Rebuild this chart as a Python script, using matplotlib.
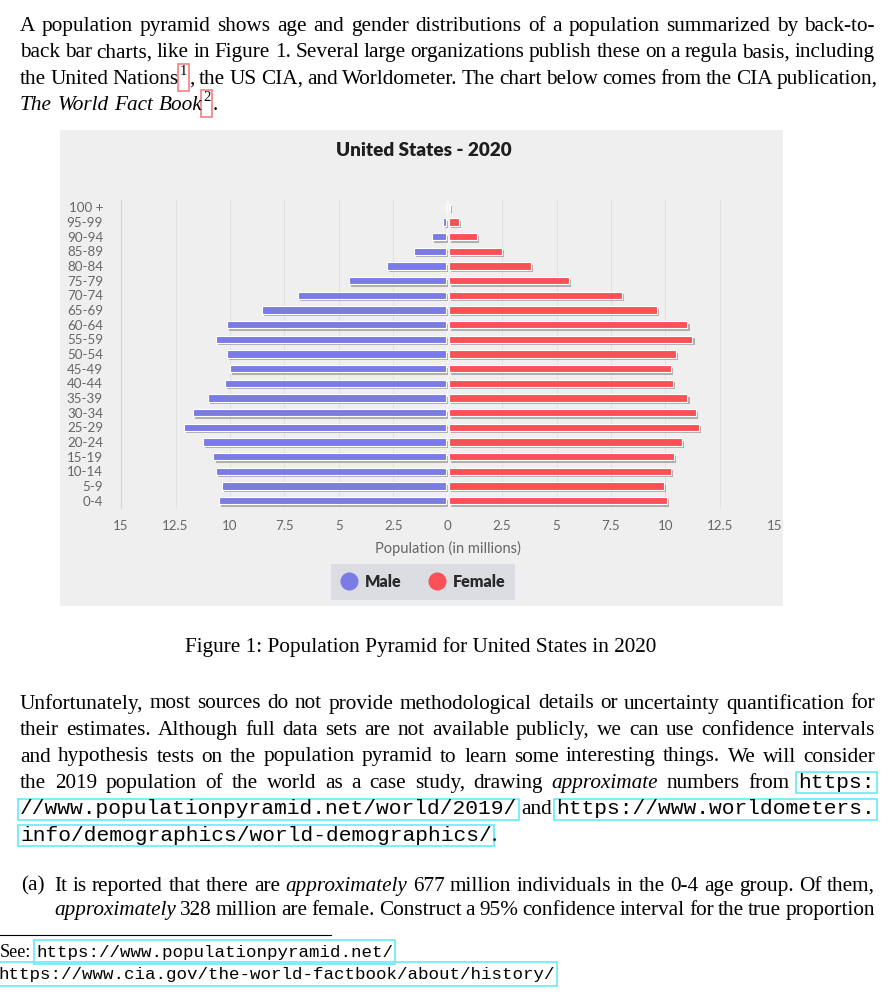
import re
import matplotlib
matplotlib.use('Agg')
import matplotlib.pyplot as plt
import matplotlib.patheffects as pe
from matplotlib.patches import Rectangle
from matplotlib.lines import Line2D
from matplotlib.transforms import IdentityTransform
from matplotlib.ticker import FuncFormatter, MultipleLocator

W, H = 890, 1008

# population pyramid values (millions)
age_groups = ['0-4', '5-9', '10-14', '15-19', '20-24', '25-29', '30-34', '35-39',
              '40-44', '45-49', '50-54', '55-59', '60-64', '65-69', '70-74', '75-79',
              '80-84', '85-89', '90-94', '95-99', '100 +']
male = [10.43, 10.32, 10.60, 10.70, 11.19, 12.05, 11.65, 10.96, 10.15, 9.92, 10.08,
        10.58, 10.08, 8.47, 6.82, 4.46, 2.73, 1.50, 0.66, 0.16, 0.02]
female = [10.00, 9.86, 10.18, 10.34, 10.70, 11.48, 11.33, 10.95, 10.27, 10.18, 10.41,
          11.18, 10.95, 9.57, 7.93, 5.53, 3.75, 2.42, 1.28, 0.44, 0.05]

# page text
para1 = [
    "A population pyramid shows age and gender distributions of a population summarized by back-to-",
    "back bar charts, like in Figure 1. Several large organizations publish these on a regula basis, including",
    "the United Nations^1^, the US CIA, and Worldometer. The chart below comes from the CIA publication,",
    "*The* *World* *Fact* *Book*^2^.",
]
caption = "Figure 1: Population Pyramid for United States in 2020"
para2 = [
    "Unfortunately, most sources do not provide methodological details or uncertainty quantification for",
    "their estimates. Although full data sets are not available publicly, we can use confidence intervals",
    "and hypothesis tests on the population pyramid to learn some interesting things. We will consider",
    "the 2019 population of the world as a case study, drawing *approximate* numbers from `https:`",
    "`//www.populationpyramid.net/world/2019/` and `https://www.worldometers.`",
    "`info/demographics/world-demographics/`.",
]
item_a = [
    "It is reported that there are *approximately* 677 million individuals in the 0-4 age group. Of them,",
    "*approximately* 328 million are female. Construct a 95% confidence interval for the true proportion",
]
footnotes = [
    "See: {https://www.populationpyramid.net/}",
    "{https://www.cia.gov/the-world-factbook/about/history/}",
]

SERIF = 'Liberation Serif'
MONO = 'Liberation Mono'
CHART_FONT = 'Lato'
BODY = 15.35

STY = {
    'rm': dict(family=SERIF, size=BODY),
    'it': dict(family=SERIF, size=BODY, style='italic'),
    'tt': dict(family=MONO, size=15.3),
    'sup': dict(family=SERIF, size=10.5),
    'rmf': dict(family=SERIF, size=13),
    'ttf': dict(family=MONO, size=12.6),
}
LINK = '#63eef6'
REF = '#f47f7f'

fig = plt.figure(figsize=(W / 100, H / 100), dpi=100)
fig.patch.set_facecolor('white')
renderer = fig.canvas.get_renderer()
ident = IdentityTransform()


def box(x0, x1, top, bottom, color):
    fig.patches.append(Rectangle((x0, H - bottom), x1 - x0, bottom - top, transform=ident,
                                 fill=False, edgecolor=color, linewidth=1.2, zorder=3))


def parse(line, foot=False):
    words = []
    for w in line.split(' '):
        segs = []
        for s in re.findall(r'\*[^*]+\*|`[^`]+`|\^[^^]+\^|\{[^}]+\}|[^*`^{]+', w):
            if s[0] == '*':
                segs.append((s[1:-1], 'it'))
            elif s[0] == '`':
                segs.append((s[1:-1], 'tt'))
            elif s[0] == '^':
                segs.append((s[1:-1], 'sup'))
            elif s[0] == '{':
                segs.append((s[1:-1], 'ttf'))
            else:
                segs.append((s, 'rmf' if foot else 'rm'))
        words.append(segs)
    return words


def draw_line(line, y, x0=20, x1=875, justify=True, space=5.5, foot=False):
    words = parse(line, foot)
    rows, widths = [], []
    for w in words:
        row = []
        for txt, st in w:
            t = fig.text(0, 0, txt, transform=ident, va='baseline', ha='left', **STY[st])
            row.append((t, st, t.get_window_extent(renderer).width))
        rows.append(row)
        widths.append(sum(r[2] for r in row))
    gap = space
    if justify and len(words) > 1:
        gap = (x1 - x0 - sum(widths)) / (len(words) - 1)
    x = x0
    for row in rows:
        for t, st, tw in row:
            if st == 'sup':
                t.set_position((x + 1, H - y + 9))
                box(x - 1, x + tw + 3, y - 20, y + 7, REF)
                x += 3
            else:
                t.set_position((x, H - y))
            if st == 'tt':
                box(x - 2, x + tw + 2, y - 16, y + 5, LINK)
            if st == 'ttf':
                box(x - 2, x + tw + 2, y - 17, y + 7, LINK)
            x += tw
        x += gap


for i, ln in enumerate(para1):
    draw_line(ln, 30.7 + 26.5 * i, justify=(i < len(para1) - 1))

for i, ln in enumerate(para2):
    draw_line(ln, 708.5 + 26.5 * i, justify=(i < len(para2) - 1))

fig.text(421, H - 651.7, caption, transform=ident, ha='center', va='baseline', **STY['rm'])

fig.text(20.7, H - 890.7, "(a)", transform=ident, ha='left', va='baseline', **STY['rm'])
for i, ln in enumerate(item_a):
    draw_line(ln, 890.7 + 24.5 * i, x0=54)

fig.add_artist(Line2D([0, 331], [H - 935, H - 935], transform=ident, color='black', lw=0.8))
draw_line(footnotes[0], 956.7, x0=0, justify=False, space=4.5, foot=True)
draw_line(footnotes[1], 979.3, x0=-2, justify=False, foot=True)

# ---- chart image ----
fig.patches.append(Rectangle((60, H - 606), 723, 476, transform=ident,
                             facecolor='#efefef', edgecolor='none', zorder=-5))

x_lo, x_hi = 121.1, 774.3
y_top, y_bot = 200.0, 508.0
ax = fig.add_axes([x_lo / W, 1 - y_bot / H, (x_hi - x_lo) / W, (y_bot - y_top) / H])
ax.set_facecolor('none')

male_c = '#7b7be6'
female_c = '#fa5157'
shadow = [pe.SimplePatchShadow(offset=(1.5, -1.8), shadow_rgbFace='#6f6f6f', alpha=0.5), pe.Normal()]
ypos = list(range(len(age_groups)))
ax.barh(ypos, [-v for v in male], left=-0.06, height=0.48, color=male_c,
        edgecolor='white', linewidth=0.8, path_effects=shadow, zorder=3)
ax.barh(ypos, female, left=0.06, height=0.48, color=female_c,
        edgecolor='white', linewidth=0.8, path_effects=shadow, zorder=3)

ax.set_xlim(-15, 15)
ax.set_ylim(-0.5, len(age_groups) - 0.5)
ax.xaxis.set_major_locator(MultipleLocator(2.5))
ax.xaxis.set_major_formatter(FuncFormatter(lambda v, p: f'{abs(v):g}'))
ax.set_yticks(ypos)
ax.set_yticklabels(age_groups)
ax.tick_params(axis='both', length=0, labelcolor='#666666', labelsize=9.6)
ax.tick_params(axis='x', pad=9)
ax.tick_params(axis='y', pad=13)
for lab in ax.get_xticklabels() + ax.get_yticklabels():
    lab.set_family(CHART_FONT)
ax.grid(axis='x', color='#e0e0e0', linewidth=0.8, zorder=0)
for side in ['top', 'right', 'bottom']:
    ax.spines[side].set_visible(False)
ax.spines['left'].set_color('#ccd6eb')
ax.axvline(0, color='#f8f8f8', linewidth=1.2, zorder=2)
ax.set_xlabel('Population (in millions)', family=CHART_FONT, fontsize=10.5,
              color='#666666', labelpad=6)

fig.text(424, H - 151, 'United States - 2020', transform=ident, ha='center', va='center',
         family=CHART_FONT, fontsize=13.6, fontweight='heavy', color='#1e1e1e')

handles = [Line2D([], [], marker='o', linestyle='none', markersize=12, color=male_c, label='Male'),
           Line2D([], [], marker='o', linestyle='none', markersize=12, color=female_c, label='Female')]
leg = fig.legend(handles=handles, loc='center', bbox_to_anchor=(423 / W, 1 - 582 / H), ncol=2,
                 frameon=True, fancybox=False, facecolor='#dcdde3', edgecolor='none', framealpha=1,
                 handlelength=1.0, handletextpad=0.5, columnspacing=1.7, borderpad=0.6,
                 prop=dict(family=CHART_FONT, size=11.6, weight='heavy'))
for t in leg.get_texts():
    t.set_color('#2a2a2a')

fig.savefig('out.png', dpi=100)
